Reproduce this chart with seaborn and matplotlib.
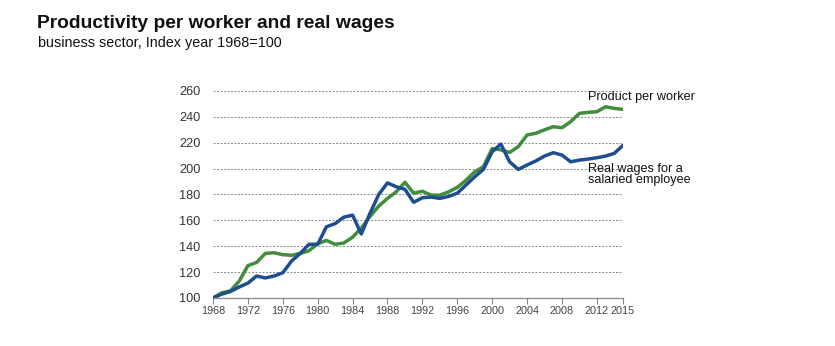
import matplotlib
matplotlib.use("Agg")
import matplotlib.pyplot as plt
import seaborn as sns
import pandas as pd

years = list(range(1968, 2016))
product_per_worker = [100, 104, 105.5, 113, 125, 127.5, 134.5, 135, 133.5, 133, 134.5, 136.5,
                      142, 144.5, 141.5, 142.5, 147, 154, 163, 171, 177, 182,
                      189.5, 181, 182.5, 179.5, 179.5, 182, 185.5, 191, 197.5, 201.5,
                      215.5, 214.5, 212.5, 217, 226, 227.3, 230, 232.4, 231.6, 236.3,
                      242.7, 243.5, 244, 247.8, 246.6, 245.8]
real_wages = [100, 103, 105, 108.5, 111.5, 117, 115.5, 117, 119.5, 128.5, 134.5, 141.5,
              141.5, 155, 157.5, 162.5, 164, 149.5, 165.5, 180, 189, 186,
              184, 174, 177.5, 178, 177, 178.5, 181, 187.3, 193.7, 199.4,
              213, 219, 205.3, 199.4, 202.8, 205.9, 209.7, 212.3, 210.5, 205.3,
              206.6, 207.4, 208.4, 209.7, 211.8, 218]
series_names = ["Product per worker", "Real wages for a salaried employee"]
xtick_labels = [1968, 1972, 1976, 1980, 1984, 1988, 1992, 1996, 2000, 2004, 2008, 2012, 2015]
ytick_labels = [100, 120, 140, 160, 180, 200, 220, 240, 260]

df = pd.DataFrame({
    "year": years * 2,
    "value": product_per_worker + real_wages,
    "series": [series_names[0]] * len(years) + [series_names[1]] * len(years),
})

sns.set_theme(style="white")
plt.rcParams["font.family"] = ["Liberation Sans", "DejaVu Sans"]

fig = plt.figure(figsize=(8.35, 3.46), dpi=100)
ax = fig.add_axes([213 / 835, 1 - 298 / 346, 410 / 835, 207 / 346])

palette = {series_names[0]: "#428c3e", series_names[1]: "#1f4e8f"}
sns.lineplot(data=df, x="year", y="value", hue="series", palette=palette,
             linewidth=2.5, ax=ax, legend=False)

ax.set_xlim(1968, 2015)
ax.set_ylim(100, 260)
ax.set_xticks(xtick_labels)
ax.set_xticklabels([str(v) for v in xtick_labels], fontsize=7.8, color="#444444")
ax.set_yticks(ytick_labels)
ax.set_yticklabels([str(v) for v in ytick_labels], fontsize=9.2, color="#333333")
ax.set_xlabel("")
ax.set_ylabel("")

for v in ytick_labels[1:]:
    ax.axhline(v, color="#8a8a8a", linestyle=(0, (2, 1.6)), linewidth=0.7, zorder=0)

for s in ["top", "right", "left"]:
    ax.spines[s].set_visible(False)
ax.spines["bottom"].set_color("#888888")
ax.spines["bottom"].set_linewidth(0.9)
ax.tick_params(axis="x", direction="out", length=4, width=0.8, color="#888888", pad=1.5, bottom=True)
ax.tick_params(axis="y", length=0, pad=9)

ax.text(2011.0, 255.3, "Product per worker", fontsize=9.1, color="#111111", va="center", ha="left")
ax.text(2011.0, 195.3, "Real wages for a\nsalaried employee", fontsize=9.1, color="#111111",
        va="center", ha="left", linespacing=0.95)

fig.text(37 / 835, 1 - 24 / 346, "Productivity per worker and real wages", fontsize=13.9,
         fontweight="bold", color="#111111", va="center", ha="left")
fig.text(38 / 835, 1 - 43 / 346, "business sector, Index year 1968=100", fontsize=10.4,
         color="#111111", va="center", ha="left")

fig.savefig("out.png", dpi=100)
